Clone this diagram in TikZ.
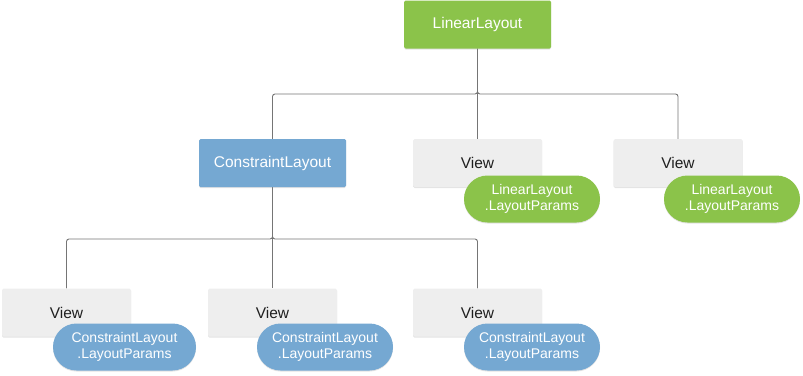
\documentclass[tikz,border=0pt]{standalone}
\usepackage{fontspec}
\setmainfont{Liberation Sans}
\usetikzlibrary{shapes.misc,shadows,backgrounds}
\definecolor{llgreen}{RGB}{139,195,74}
\definecolor{clblue}{RGB}{117,168,210}
\definecolor{viewgray}{RGB}{238,238,238}
\definecolor{wiregray}{RGB}{117,117,117}
\tikzset{
  boxshadow/.style={drop shadow={opacity=0.22,shadow xshift=0pt,shadow yshift=-1pt}},
  layout/.style={rectangle,rounded corners=1.5pt,minimum width=147pt,minimum height=48pt,inner sep=0pt,
                 text=white,font=\fontsize{15.5}{18}\selectfont,boxshadow},
  view/.style={rectangle,rounded corners=1.5pt,fill=viewgray,minimum width=129pt,minimum height=48pt,
               inner sep=0pt,text=black!88,font=\fontsize{15.5}{18}\selectfont,boxshadow},
  params/.style={rounded rectangle,minimum width=136pt,minimum height=47pt,inner sep=0pt,align=center,
                 text=white,font=\fontsize{14}{16}\selectfont,boxshadow},
  wire/.style={draw=wiregray,line width=0.9pt,rounded corners=2.5pt},
}

\begin{document}
\begin{tikzpicture}[x=1pt,y=-1pt]
  \useasboundingbox (0,0) rectangle (803,375);
  % top level
  \node[layout,fill=llgreen] (lin) at (477.5,24.5){LinearLayout};
  \node[layout,fill=clblue] (con) at (272.5,163){ConstraintLayout};
  % children of the LinearLayout
  \foreach \n/\x in {va/477.5,vb/678}{
    \node[view] (\n) at (\x,163){View};
  }
  \node[params,fill=llgreen] (pa) at (532,199){LinearLayout\\.LayoutParams};
  \node[params,fill=llgreen] (pb) at (732,199){LinearLayout\\.LayoutParams};
  % children of the ConstraintLayout
  \foreach \n/\x in {vc/66.5,vd/272.5,ve/477.5}{
    \node[view] (\n) at (\x,312.5){View};
  }
  \node[params,fill=clblue,minimum width=143pt] (pc) at (124.5,347){ConstraintLayout\\.LayoutParams};
  \node[params,fill=clblue] (pd) at (325,347){ConstraintLayout\\.LayoutParams};
  \node[params,fill=clblue] (pe) at (532,347){ConstraintLayout\\.LayoutParams};

  \coordinate (busa) at (477.5,94);
  \coordinate (busb) at (272.5,239);
  \begin{scope}[on background layer]
    \draw[wire] (lin.south) -- (va.north);
    \draw[wire] (lin.south) -- (busa) -| (con.north);
    \draw[wire] (lin.south) -- (busa) -| (vb.north);
    \draw[wire] (con.south) -- (vd.north);
    \draw[wire] (con.south) -- (busb) -| (vc.north);
    \draw[wire] (con.south) -- (busb) -| (ve.north);
  \end{scope}
\end{tikzpicture}
\end{document}
